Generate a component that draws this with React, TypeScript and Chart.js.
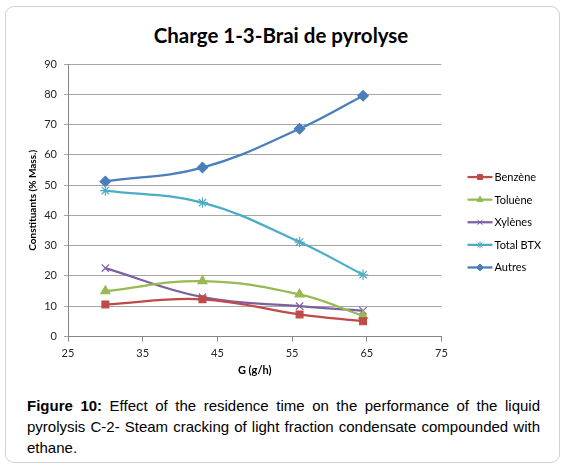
import React, { useEffect, useRef } from 'react'
import { Chart, registerables, ChartConfiguration, Plugin } from 'chart.js'
import { drawPoint } from 'chart.js/helpers'

Chart.register(...registerables)

const gValues = [30, 43, 56, 64.5]
const benzene = [10.6, 12.3, 7.3, 5.0]
const toluene = [15.0, 18.3, 13.9, 6.8]
const xylenes = [22.6, 13.0, 10.0, 8.5]
const totalBtx = [48.2, 44.2, 31.2, 20.4]
const autres = [51.2, 55.8, 68.6, 79.5]

const seriesNames = ['Benzène', 'Toluène', 'Xylènes', 'Total BTX', 'Autres']
const seriesColors = ['#BE4B48', '#98B954', '#7D60A0', '#4BACC6', '#4A7EBB']
const seriesMarkers = ['rect', 'triangle', 'crossRot', 'star', 'rectRot']
const seriesValues = [benzene, toluene, xylenes, totalBtx, autres]

const FONT = 'Lato, "Open Sans", sans-serif'
const W = 566
const H = 390

// legend drawn as Excel does: short line with the marker in the middle
const lineLegend: Plugin = {
  id: 'lineLegend',
  afterDraw(chart) {
    const { ctx, chartArea } = chart
    const x0 = chartArea.right + 26
    const step = 22.6
    const yStart = (chartArea.top + chartArea.bottom) / 2 + 22 - step * 2
    ctx.save()
    chart.data.datasets.forEach((ds: any, i: number) => {
      const y = yStart + i * step
      ctx.strokeStyle = ds.borderColor
      ctx.lineWidth = 2.25
      ctx.beginPath()
      ctx.moveTo(x0, y)
      ctx.lineTo(x0 + 25, y)
      ctx.stroke()
      ctx.fillStyle = ds.pointBackgroundColor
      ctx.strokeStyle = ds.pointBorderColor
      ctx.lineWidth = 1
      drawPoint(ctx, { pointStyle: ds.pointStyle, radius: 3.5, rotation: 0, borderWidth: 1 } as any, x0 + 12.5, y)
      ctx.fillStyle = '#000'
      ctx.font = '11px ' + FONT
      ctx.textBaseline = 'middle'
      ctx.textAlign = 'left'
      ctx.fillText(ds.label, x0 + 27, y + 0.5)
    })
    ctx.restore()
  }
}

const LineChart = () => {
  const canvasRef = useRef<HTMLCanvasElement>(null)

  useEffect(() => {
    if (!canvasRef.current) return
    const config: ChartConfiguration<'line'> = {
      type: 'line',
      data: {
        datasets: seriesNames.map((name, i) => ({
          label: name,
          data: gValues.map((g, j) => ({ x: g, y: seriesValues[i][j] })),
          borderColor: seriesColors[i],
          backgroundColor: seriesColors[i],
          borderWidth: 2.25,
          tension: 0.4,
          pointStyle: seriesMarkers[i] as any,
          pointRadius: seriesMarkers[i] === 'rect' ? 4.8 : 5.2,
          pointBackgroundColor: seriesColors[i],
          pointBorderColor: seriesColors[i],
          pointBorderWidth: 1.2,
          fill: false
        }))
      },
      options: {
        responsive: false,
        animation: false,
        layout: { padding: { left: 0, right: W - 441.5, top: 64, bottom: 0 } },
        plugins: {
          legend: { display: false },
          tooltip: { enabled: false },
          title: { display: false }
        },
        scales: {
          x: {
            type: 'linear',
            min: 25,
            max: 75,
            afterFit: (scale: any) => { scale.height = H - 64 - 272.5 },
            ticks: { stepSize: 10, color: '#262626', padding: 5, font: { family: FONT, size: 11 } },
            grid: { drawOnChartArea: false, drawTicks: true, tickLength: 5, color: '#868686' },
            border: { color: '#868686', width: 1 },
            title: {
              display: true,
              text: 'G (g/h)',
              color: '#000',
              font: { family: FONT, size: 11, weight: 'bold', lineHeight: 1.2 },
              padding: { top: 0, bottom: 13.4 }
            }
          },
          y: {
            type: 'linear',
            min: 0,
            max: 90,
            afterFit: (scale: any) => { scale.width = 68 },
            ticks: { stepSize: 10, color: '#262626', padding: 7, font: { family: FONT, size: 11 } },
            grid: { drawTicks: true, tickLength: 4, color: '#a6a6a6', lineWidth: 1 },
            border: { color: '#868686', width: 1 },
            title: {
              display: true,
              text: 'Constituants (% Mass.)',
              color: '#000',
              font: { family: FONT, size: 10, weight: 'bold', lineHeight: 1.2 },
              padding: { top: 27, bottom: 0 }
            }
          }
        }
      },
      plugins: [lineLegend]
    }
    const chart = new Chart(canvasRef.current, config)
    return () => chart.destroy()
  }, [])

  return <canvas ref={canvasRef} width={W} height={H} style={{ position: 'absolute', left: 0, top: 0 }} />
}

export default function App() {
  return (
    <div style={{ position: 'absolute', left: 0, top: 0, width: W, height: 468, background: '#fff' }}>
      <div style={{
        position: 'absolute', left: 5, top: 5.5, width: 555, height: 457.5, boxSizing: 'border-box',
        border: '1.5px solid #d2d2d2', borderRadius: 9
      }} />
      <div style={{
        position: 'absolute', left: 0, top: 23, width: 562, textAlign: 'center', fontFamily: FONT,
        fontWeight: 'bold', fontSize: 20.5, lineHeight: '24px', color: '#000'
      }}>
        Charge 1-3-Brai de pyrolyse
      </div>
      <LineChart />
      <div style={{
        position: 'absolute', left: 27, top: 394.5, width: 513, fontFamily: '"Liberation Sans", Arial, sans-serif',
        fontSize: 15, lineHeight: '21px', textAlign: 'justify', color: '#000'
      }}>
        <b>Figure 10:</b> Effect of the residence time on the performance of the liquid pyrolysis C-2- Steam cracking of light fraction condensate compounded with ethane.
      </div>
    </div>
  )
}
